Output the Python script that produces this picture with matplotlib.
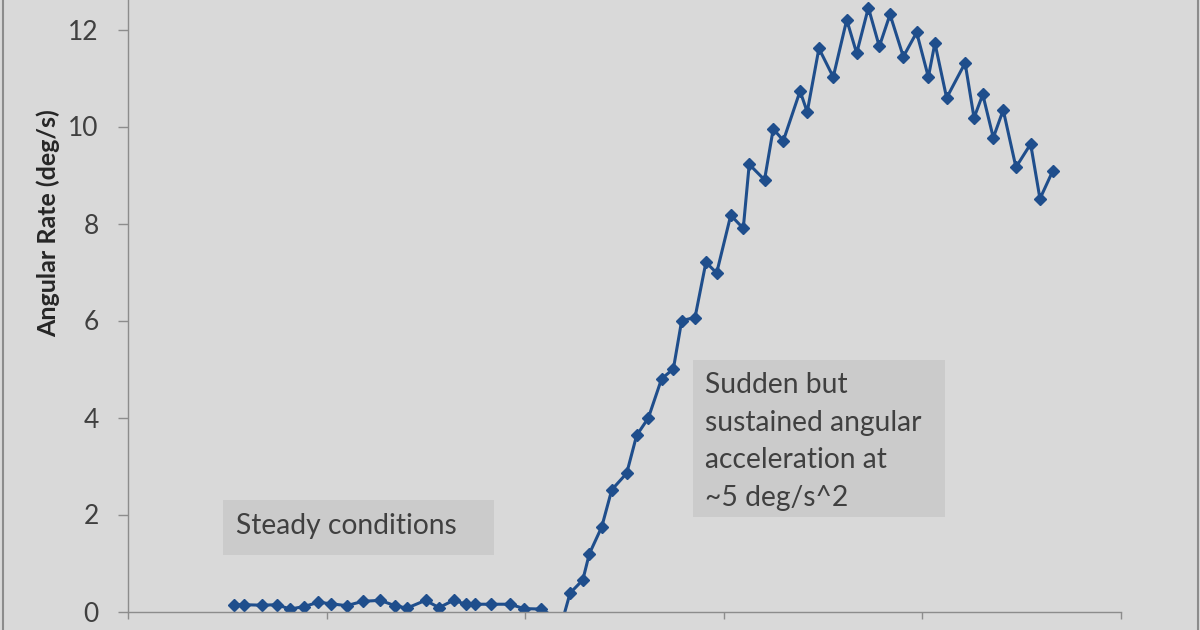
import numpy as np
import matplotlib
matplotlib.use('Agg')
import matplotlib.pyplot as plt
from matplotlib.patches import Rectangle
from matplotlib.lines import Line2D

# time axis (one unit per major tick) and angular rate in deg/s
time_s = [0.534, 0.586, 0.673, 0.749, 0.816, 0.884, 0.959, 1.022, 1.101, 1.182,
          1.270, 1.344, 1.405, 1.498, 1.566, 1.639, 1.702, 1.747, 1.826, 1.923,
          1.994, 2.082, 2.140, 2.190, 2.226, 2.290, 2.323, 2.385, 2.436, 2.511,
          2.561, 2.620, 2.687, 2.746, 2.788, 2.855, 2.910, 2.964, 3.035, 3.098,
          3.128, 3.205, 3.249, 3.300, 3.384, 3.420, 3.479, 3.551, 3.619, 3.669,
          3.728, 3.783, 3.837, 3.904, 3.971, 4.030, 4.063, 4.122, 4.215, 4.260,
          4.304, 4.357, 4.407, 4.471, 4.545, 4.592, 4.656]
rate = [0.14, 0.14, 0.13, 0.14, 0.05, 0.10, 0.19, 0.16, 0.12, 0.21,
        0.23, 0.12, 0.07, 0.23, 0.08, 0.23, 0.15, 0.15, 0.15, 0.15,
        0.06, 0.05, -0.10, -0.15, 0.38, 0.65, 1.19, 1.74, 2.51, 2.85,
        3.63, 3.99, 4.80, 5.00, 6.00, 6.06, 7.20, 6.98, 8.17, 7.90,
        9.22, 8.90, 9.95, 9.71, 10.73, 10.30, 11.61, 11.02, 12.20, 11.51,
        12.45, 11.65, 12.31, 11.44, 11.94, 11.02, 11.72, 10.59, 11.31, 10.18,
        10.66, 9.77, 10.34, 9.16, 9.64, 8.51, 9.08]
y_ticks = [0, 2, 4, 6, 8, 10, 12]
x_ticks = [0, 1, 2, 3, 4, 5]

BG = '#d9d9d9'
BLUE = '#1f4e8c'
TXT = '#404040'
FONT = 'Lato'

fig = plt.figure(figsize=(12, 6.3), dpi=100)
fig.patch.set_facecolor(BG)

# plot area runs off the top of the picture (cropped chart)
ax = fig.add_axes([128 / 1200, 18.5 / 630, 993 / 1200, 776 / 630])
ax.set_facecolor(BG)

marks = [i for i, v in enumerate(rate) if v >= 0]
ax.plot(time_s, rate, color=BLUE, linewidth=2.2, marker='D', markersize=6.5,
        markevery=marks, markerfacecolor=BLUE, markeredgecolor=BLUE)

ax.set_xlim(0, 5)
ax.set_ylim(0, 16)
ax.set_xticks(x_ticks)
ax.set_xticklabels([])
ax.set_yticks(y_ticks)
ax.set_yticklabels([str(t) for t in y_ticks], fontsize=19, color=TXT,
                   family=FONT)
ax.tick_params(axis='y', direction='out', length=7, width=1, color='#8c8c8c',
               pad=14)
ax.tick_params(axis='x', direction='out', length=5, width=1, color='#8c8c8c')
for s in ['top', 'right']:
    ax.spines[s].set_visible(False)
for s in ['left', 'bottom']:
    ax.spines[s].set_color('#8c8c8c')
    ax.spines[s].set_linewidth(1)

ax.set_ylabel('Angular Rate (deg/s)', fontsize=18, fontweight='bold',
              color='#262626', family=FONT, labelpad=6)

# annotation boxes
fig.add_artist(Rectangle((223 / 1200, 75 / 630), 271 / 1200, 55 / 630,
                         transform=fig.transFigure, facecolor='#cbcbcb',
                         edgecolor='none'))
fig.text(236 / 1200, 104 / 630, 'Steady conditions', fontsize=20.3,
         color=TXT, family=FONT, va='center', ha='left')

fig.add_artist(Rectangle((693 / 1200, 113 / 630), 252 / 1200, 157 / 630,
                         transform=fig.transFigure, facecolor='#cbcbcb',
                         edgecolor='none'))
fig.text(705 / 1200, 258 / 630,
         'Sudden but\nsustained angular\nacceleration at\n~5 deg/s^2',
         fontsize=20.3, color=TXT, family=FONT, va='top', ha='left',
         linespacing=1.55)

# outer chart border
for xb in [2.5 / 1200, 1197.5 / 1200]:
    fig.add_artist(Line2D([xb, xb], [0, 1], transform=fig.transFigure,
                          color='#8c8c8c', linewidth=1.5))

fig.savefig('out.png', dpi=100, facecolor=fig.get_facecolor())
